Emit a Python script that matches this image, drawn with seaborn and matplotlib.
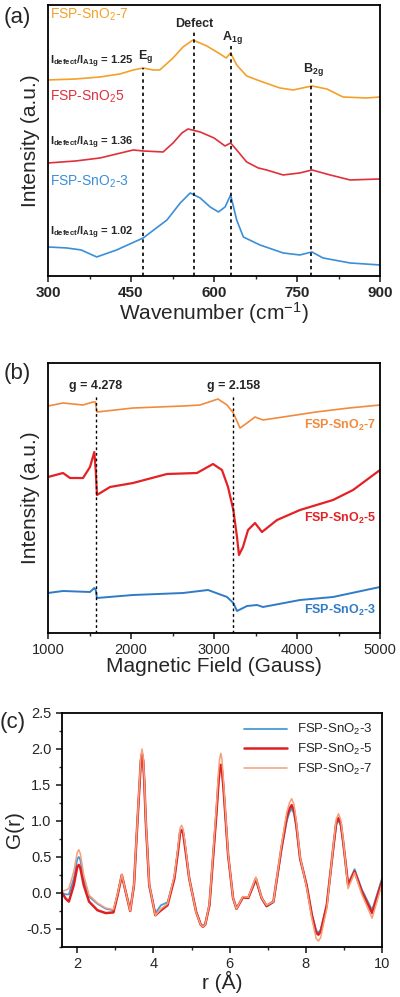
import numpy as np
import pandas as pd
import matplotlib
matplotlib.use("Agg")
import matplotlib.pyplot as plt
import seaborn as sns

# ---- (a) Raman ----
raman_x7 = [300, 350, 394, 430, 454, 472, 490, 502, 526, 544, 562, 587, 611, 622, 630, 641, 659, 683, 719, 743, 777, 804, 833, 876, 900]
raman_y7 = [196, 197, 199, 202, 206, 208, 206, 206, 218, 229, 236, 230, 222, 218, 223, 211, 200, 195, 188, 186, 190, 187, 179, 178, 179]
raman_x5 = [300, 350, 394, 454, 472, 508, 526, 542, 553, 575, 600, 620, 630, 641, 659, 680, 695, 725, 755, 777, 810, 846, 900]
raman_y5 = [113, 115, 118, 126, 125, 124, 133, 143, 147, 144, 138, 130, 133, 126, 114, 108, 106, 101, 103, 106, 101, 96, 97]
raman_x3 = [300, 334, 360, 388, 424, 472, 515, 539, 557, 575, 593, 608, 620, 630, 641, 653, 683, 725, 755, 777, 797, 846, 900]
raman_y3 = [29, 28, 26, 19, 26, 38, 56, 73, 83, 78, 69, 64, 69, 81, 56, 39, 31, 23, 21, 24, 18, 13, 11]
raman_modes = ["E$_g$", "Defect", "A$_{1g}$", "B$_{2g}$"]
raman_mode_x = [472, 564, 630, 776]
raman_mode_top = [208, 244, 231, 198]
ratios = ["1.25", "1.36", "1.02"]

# ---- (b) EPR ----
epr_x7 = [1000, 1181, 1422, 1542, 1570, 1590, 2024, 2627, 2831, 3048, 3157, 3233, 3313, 3398, 3494, 3590, 3831, 4229, 4627, 5000]
epr_y7 = [219, 222, 220, 223, 223, 213, 217, 219, 220, 226, 220, 212, 197, 202, 208, 205, 208, 213, 217, 220]
epr_x5 = [1000, 1181, 1265, 1422, 1506, 1558, 1575, 1590, 1747, 2024, 2434, 2795, 2988, 3096, 3169, 3233, 3277, 3301, 3349, 3410, 3494, 3578, 3759, 4036, 4434, 4675, 5000]
epr_y5 = [148, 152, 147, 147, 158, 173, 155, 130, 138, 142, 151, 152, 161, 155, 138, 115, 88, 70, 78, 95, 102, 93, 105, 115, 125, 135, 155]
epr_x3 = [1000, 1181, 1506, 1558, 1575, 1590, 2024, 2627, 2928, 3157, 3233, 3277, 3398, 3518, 3590, 4036, 4434, 5000]
epr_y3 = [32, 34, 33, 37, 35, 27, 30, 32, 35, 28, 22, 14, 19, 20, 18, 25, 28, 38]
g_labels = ["g = 4.278", "g = 2.158"]
g_field = [1575, 3233]

# ---- (c) PDF ----
pdf_r = [1.60, 1.70, 1.78, 1.91, 2.00, 2.04, 2.08, 2.17, 2.31, 2.53,
         2.75, 2.95, 3.06, 3.17, 3.27, 3.39, 3.49, 3.58, 3.64, 3.67,
         3.70, 3.73, 3.76, 3.80, 3.89, 4.05, 4.20, 4.37, 4.55, 4.65,
         4.70, 4.74, 4.78, 4.84, 4.94, 5.12, 5.24, 5.30, 5.36, 5.47,
         5.65, 5.71, 5.74, 5.77, 5.80, 5.84, 5.96, 6.09, 6.18, 6.35,
         6.49, 6.69, 6.84, 6.97, 7.15, 7.36, 7.50, 7.57, 7.63, 7.69,
         7.75, 7.85, 8.02, 8.16, 8.27, 8.33, 8.39, 8.55, 8.73, 8.80,
         8.86, 8.92, 8.99, 9.11, 9.28, 9.47, 9.74, 10.0]
pdf_g3 = [0.0, -0.02, -0.02, 0.2, 0.47, 0.5, 0.46, 0.2, -0.05, -0.15,
          -0.22, -0.24, -0.02, 0.25, 0.02, -0.24, 0.11, 0.99, 1.55, 1.85,
          1.94, 1.85, 1.55, 0.99, 0.11, -0.28, -0.17, -0.13, 0.22, 0.62,
          0.85, 0.88, 0.84, 0.62, 0.2, -0.26, -0.43, -0.46, -0.43, -0.17,
          1.08, 1.55, 1.72, 1.78, 1.7, 1.45, 0.53, -0.07, -0.22, -0.06,
          -0.07, 0.18, -0.08, -0.19, -0.13, 0.6, 1.0, 1.12, 1.17, 1.1,
          0.92, 0.48, 0.11, -0.3, -0.52, -0.55, -0.51, -0.17, 0.65, 0.95,
          1.01, 0.93, 0.66, 0.12, 0.33, 0.05, -0.24, 0.2]
pdf_g5 = [0.0, -0.08, -0.12, 0.11, 0.36, 0.39, 0.35, 0.11, -0.12, -0.24,
          -0.28, -0.27, -0.03, 0.25, 0.02, -0.25, 0.11, 0.99, 1.55, 1.84,
          1.93, 1.84, 1.55, 0.99, 0.11, -0.31, -0.24, -0.17, 0.2, 0.6,
          0.84, 0.87, 0.83, 0.6, 0.2, -0.26, -0.44, -0.47, -0.44, -0.17,
          1.08, 1.55, 1.72, 1.78, 1.7, 1.45, 0.53, -0.07, -0.22, -0.06,
          -0.07, 0.2, -0.07, -0.18, -0.12, 0.62, 1.05, 1.17, 1.22, 1.15,
          0.95, 0.48, 0.11, -0.31, -0.55, -0.58, -0.54, -0.17, 0.67, 0.98,
          1.04, 0.96, 0.67, 0.11, 0.3, 0.02, -0.28, 0.16]
pdf_g7 = [0.02, 0.04, 0.06, 0.3, 0.56, 0.6, 0.55, 0.25, -0.03, -0.14,
          -0.21, -0.23, -0.01, 0.26, 0.02, -0.25, 0.12, 1.02, 1.6, 1.9,
          2.0, 1.9, 1.6, 1.02, 0.12, -0.31, -0.22, -0.15, 0.24, 0.66,
          0.9, 0.94, 0.89, 0.65, 0.2, -0.27, -0.44, -0.47, -0.44, -0.15,
          1.18, 1.7, 1.87, 1.94, 1.85, 1.55, 0.55, -0.07, -0.22, -0.05,
          -0.06, 0.22, -0.07, -0.17, -0.12, 0.66, 1.12, 1.25, 1.31, 1.23,
          1.0, 0.5, 0.08, -0.36, -0.63, -0.67, -0.62, -0.22, 0.7, 1.03,
          1.1, 1.01, 0.7, 0.06, 0.28, -0.02, -0.35, 0.12]

names = ["FSP-SnO$_2$-3", "FSP-SnO$_2$-5", "FSP-SnO$_2$-7"]

sns.set_style("ticks")
plt.rcParams["font.family"] = ["Liberation Sans", "DejaVu Sans"]
plt.rcParams["mathtext.fontset"] = "custom"
plt.rcParams["mathtext.rm"] = "Liberation Sans"
plt.rcParams["mathtext.bf"] = "Liberation Sans:bold"
plt.rcParams["mathtext.it"] = "Liberation Sans:italic"
plt.rcParams["mathtext.default"] = "regular"

fig = plt.figure(figsize=(4, 9.97), dpi=100)
ax1 = fig.add_axes([0.12, 0.7232, 0.83, 0.2718])
ax2 = fig.add_axes([0.12, 0.3651, 0.83, 0.2708])
ax3 = fig.add_axes([0.155, 0.0502, 0.80, 0.2347])

for ax in (ax1, ax2, ax3):
    for s in ax.spines.values():
        s.set_linewidth(1.3)
        s.set_color("black")

# (a)
c7a, c5a, c3a = "#f4a12a", "#e0303a", "#3b8ed8"
sns.lineplot(x=raman_x7, y=raman_y7, ax=ax1, color=c7a, lw=1.2, sort=False, estimator=None)
sns.lineplot(x=raman_x5, y=raman_y5, ax=ax1, color=c5a, lw=1.2, sort=False, estimator=None)
sns.lineplot(x=raman_x3, y=raman_y3, ax=ax1, color=c3a, lw=1.2, sort=False, estimator=None)
for x, top in zip(raman_mode_x, raman_mode_top):
    ax1.plot([x, x], [0, top], ls=(0, (2, 2)), color="black", lw=1.2)
mode_text_y = [219, 252, 238, 206]
for lab, x, ty in zip(raman_modes, raman_mode_x, mode_text_y):
    ax1.text(x + (4 if lab != "Defect" else 0), ty, lab, ha="center", va="center",
             fontsize=9, fontweight="bold")
ax1.text(304, 261, names[2], color=c7a, fontsize=10, va="center")
ax1.text(304, 179, "FSP-SnO$_2$5", color=c5a, fontsize=10, va="center")
ax1.text(304, 94, names[0], color=c3a, fontsize=10, va="center")
for r, ty in zip(ratios, [214, 133, 43]):
    ax1.text(304, ty, r"$\mathbf{I_{defect}/I_{A1g}}$ = " + r, fontsize=8,
             fontweight="bold", va="center")
ax1.set_xlim(300, 900)
ax1.set_ylim(0, 271)
ax1.set_xticks([300, 450, 600, 750, 900])
ax1.set_xticks([375, 525, 675, 825], minor=True)
ax1.set_yticks([])
ax1.tick_params(axis="x", which="major", length=4, width=1.2, labelsize=11, direction="out")
ax1.tick_params(axis="x", which="minor", length=2.5, width=1.0, direction="out")
for t in ax1.get_xticklabels():
    t.set_fontweight("bold")
ax1.set_xlabel("Wavenumber (cm$^{-1}$)", fontsize=15, labelpad=0)
ax1.set_ylabel("Intensity (a.u.)", fontsize=15, labelpad=6)
fig.text(0.01, 1 - 17 / 997, "(a)", fontsize=16, va="center")

# (b)
c7b, c5b, c3b = "#f28a3e", "#e42124", "#2f7bc8"
sns.lineplot(x=epr_x7, y=epr_y7, ax=ax2, color=c7b, lw=1.2, sort=False, estimator=None)
sns.lineplot(x=epr_x5, y=epr_y5, ax=ax2, color=c5b, lw=1.6, sort=False, estimator=None)
sns.lineplot(x=epr_x3, y=epr_y3, ax=ax2, color=c3b, lw=1.4, sort=False, estimator=None)
for lab, x in zip(g_labels, g_field):
    ax2.plot([x, x], [-8, 230], ls=(0, (2, 2)), color="black", lw=1.0)
    ax2.text(x, 239, lab, ha="center", va="center", fontsize=9, fontweight="bold")
ax2.text(4950, 200, names[2], color=c7b, ha="right", va="center", fontsize=9, fontweight="bold")
ax2.text(4950, 107, names[1], color=c5b, ha="right", va="center", fontsize=9, fontweight="bold")
ax2.text(4950, 15, names[0], color=c3b, ha="right", va="center", fontsize=9, fontweight="bold")
ax2.set_xlim(1000, 5000)
ax2.set_ylim(-8, 262)
ax2.set_xticks([1000, 2000, 3000, 4000, 5000])
ax2.set_xticks([1500, 2500, 3500, 4500], minor=True)
ax2.set_yticks([])
ax2.tick_params(axis="x", which="major", length=4, width=1.2, labelsize=10.5, direction="out")
ax2.tick_params(axis="x", which="minor", length=2.5, width=1.0, direction="out")
ax2.set_xlabel("Magnetic Field (Gauss)", fontsize=15, labelpad=0)
ax2.set_ylabel("Intensity (a.u.)", fontsize=15, labelpad=6)
fig.text(0.01, 1 - 373 / 997, "(b)", fontsize=16, va="center")

# (c)
c3c, c5c, c7c = "#4a9bd6", "#e02020", "#f5a07a"
pdf = pd.DataFrame({"r": pdf_r * 3,
                    "G": pdf_g3 + pdf_g5 + pdf_g7,
                    "sample": [names[0]] * len(pdf_r) + [names[1]] * len(pdf_r) + [names[2]] * len(pdf_r)})
for name, col, lw in zip(names, [c3c, c5c, c7c], [1.3, 1.8, 1.1]):
    sns.lineplot(data=pdf[pdf["sample"] == name], x="r", y="G", ax=ax3, color=col, lw=lw,
                 sort=False, estimator=None, label=name)
ax3.legend(loc="upper right", frameon=False, fontsize=9.5, handlelength=3.2,
           borderaxespad=0.3, labelspacing=0.35)
ax3.set_xlim(1.6, 10)
ax3.set_ylim(-0.75, 2.5)
ax3.set_xticks([2, 4, 6, 8, 10])
ax3.set_xticks([3, 5, 7, 9], minor=True)
ax3.set_yticks([-0.5, 0.0, 0.5, 1.0, 1.5, 2.0, 2.5])
ax3.set_yticks([-0.75, -0.25, 0.25, 0.75, 1.25, 1.75, 2.25], minor=True)
ax3.set_yticklabels(["-0.5", "0.0", "0.5", "1.0", "1.5", "2.0", "2.5"])
ax3.tick_params(which="major", length=4, width=1.2, labelsize=10.5, direction="out")
ax3.tick_params(which="minor", length=2.5, width=1.0, direction="out")
ax3.set_xlabel("r (Å)", fontsize=15, labelpad=0)
ax3.set_ylabel("G(r)", fontsize=15, labelpad=2)
fig.text(0.0, 1 - 722 / 997, "(c)", fontsize=16, va="center")

fig.savefig("out.png", dpi=100)
